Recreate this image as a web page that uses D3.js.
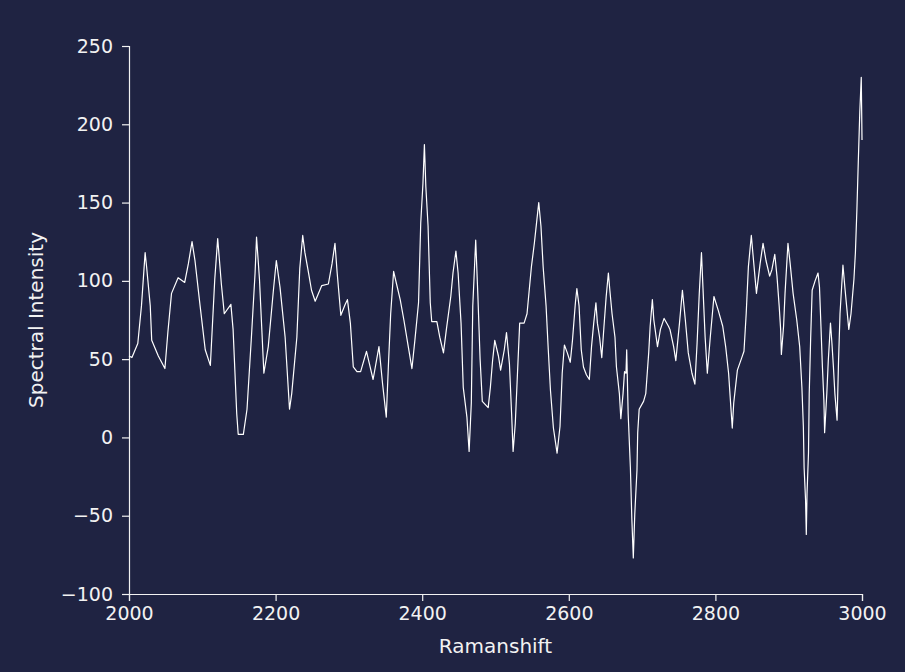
<!DOCTYPE html>
<html>
<head>
<meta charset="utf-8">
<script src="https://cdn.jsdelivr.net/npm/d3@7"></script>
<style>
  html, body { margin: 0; padding: 0; background: #1f2342; }
  svg { display: block; }
  text { font-family: "DejaVu Sans", sans-serif; }
</style>
</head>
<body>
<svg width="905" height="672"></svg>
<script>
// values
var ramanShift = [
  2000, 2004, 2012, 2017, 2022, 2024, 2029, 2031, 2040, 2049, 2053, 2058, 2067, 2076, 2081, 2086, 2090, 2097,
  2104, 2111, 2117, 2121, 2126, 2130, 2139, 2142, 2147, 2149, 2156, 2161, 2167, 2172, 2174, 2178, 2181, 2184,
  2190, 2197, 2201, 2206, 2213, 2219, 2222, 2229, 2233, 2237, 2240, 2245, 2249, 2254, 2263, 2272, 2277, 2281,
  2284, 2289, 2295, 2298, 2302, 2306, 2311, 2316, 2324, 2328, 2333, 2341, 2346, 2351, 2354, 2357, 2361, 2365,
  2370, 2375, 2381, 2386, 2390, 2395, 2398, 2401, 2403, 2405, 2408, 2411, 2413, 2420, 2424, 2429, 2433, 2439,
  2442, 2446, 2449, 2453, 2456, 2461, 2464, 2467, 2469, 2473, 2476, 2479, 2482, 2490, 2493, 2496, 2499, 2504,
  2507, 2512, 2515, 2519, 2522, 2524, 2527, 2530, 2533, 2539, 2543, 2546, 2549, 2553, 2556, 2559, 2562, 2565,
  2569, 2572, 2575, 2579, 2584, 2588, 2591, 2594, 2598, 2602, 2605, 2609, 2611, 2614, 2617, 2620, 2624, 2628,
  2631, 2634, 2637, 2639, 2642, 2645, 2648, 2651, 2654, 2656, 2659, 2663, 2665, 2669, 2671, 2674, 2676, 2678,
  2679, 2681, 2684, 2686, 2688, 2690, 2693, 2694, 2696, 2702, 2705, 2709, 2711, 2714, 2716, 2721, 2725, 2730,
  2736, 2738, 2743, 2746, 2751, 2755, 2759, 2763, 2768, 2772, 2775, 2778, 2781, 2783, 2786, 2789, 2793, 2798,
  2804, 2810, 2814, 2818, 2821, 2823, 2825, 2830, 2836, 2839, 2842, 2845, 2849, 2852, 2856, 2861, 2865, 2869,
  2874, 2877, 2881, 2884, 2887, 2889, 2890, 2893, 2895, 2899, 2902, 2906, 2911, 2915, 2918, 2920, 2921, 2923,
  2924, 2925, 2927, 2928, 2930, 2932, 2936, 2940, 2942, 2944, 2946, 2948, 2949, 2952, 2954, 2957, 2959, 2961,
  2963, 2966, 2968, 2970, 2974, 2977, 2979, 2982, 2985, 2987, 2989, 2991, 2993, 2995, 2997, 2999, 3000
];
var intensity = [
  52, 51, 60, 84, 118, 109, 84, 62, 52, 44, 67, 92, 102, 99, 111, 125, 113, 84,
  56, 46, 101, 127, 98, 79, 85, 69, 15, 2, 2, 18, 64, 105, 128, 101, 71, 41,
  58, 94, 113, 96, 64, 18, 28, 64, 108, 129, 118, 105, 94, 87, 97, 98, 111, 124,
  105, 78, 85, 88, 73, 45, 42, 42, 55, 47, 37, 58, 34, 13, 47, 79, 106, 98,
  88, 75, 58, 44, 62, 86, 137, 162, 187, 160, 135, 86, 74, 74, 64, 54, 69, 90,
  105, 119, 105, 73, 32, 13, -9, 22, 84, 126, 90, 50, 23, 19, 32, 49, 62, 52,
  43, 56, 67, 47, 15, -9, 9, 41, 73, 73, 79, 94, 109, 124, 137, 150, 135, 109,
  84, 56, 30, 6, -10, 7, 41, 59, 54, 48, 62, 86, 95, 84, 56, 45, 40, 37,
  58, 73, 86, 73, 64, 51, 71, 90, 105, 94, 79, 64, 45, 28, 12, 28, 42, 41,
  56, 15, -19, -52, -77, -49, -21, 3, 18, 23, 28, 54, 71, 88, 75, 58, 69, 76,
  71, 69, 58, 49, 73, 94, 75, 54, 41, 34, 60, 92, 118, 96, 64, 41, 64, 90,
  81, 71, 58, 41, 20, 6, 22, 43, 51, 55, 79, 109, 129, 113, 92, 111, 124, 113,
  103, 107, 117, 103, 84, 69, 53, 71, 92, 124, 111, 92, 75, 58, 32, 7, -19, -40,
  -62, -36, -10, 28, 64, 94, 100, 105, 96, 71, 45, 24, 3, 28, 49, 73, 60, 45,
  28, 11, 49, 79, 110, 94, 84, 69, 79, 90, 101, 118, 145, 177, 208, 230, 190
];
var xTicks = [2000, 2200, 2400, 2600, 2800, 3000];
var yTicks = [-100, -50, 0, 50, 100, 150, 200, 250];

var svg = d3.select("svg"),
    margin = {top: 46, right: 43, bottom: 78, left: 129},
    width = 905 - margin.left - margin.right,
    height = 672 - margin.top - margin.bottom,
    g = svg.append("g").attr("transform", "translate(" + margin.left + "," + margin.top + ")");

var fg = "#f2f2f2";

var x = d3.scaleLinear()
    .domain([2000, 3000])
    .range([0, width]);

var y = d3.scaleLinear()
    .domain([-100, 250])
    .range([height, 0]);

var data = ramanShift.map(function(d, i) { return {shift: d, value: intensity[i]}; });

var line = d3.line()
    .x(function(d) { return x(d.shift); })
    .y(function(d) { return y(d.value); });

var xAxis = g.append("g")
    .attr("transform", "translate(0," + height + ")")
    .call(d3.axisBottom(x).tickValues(xTicks).tickFormat(d3.format("d")).tickSizeOuter(0).tickSize(7).tickPadding(6));

var yAxis = g.append("g")
    .call(d3.axisLeft(y).tickValues(yTicks).tickSizeOuter(0).tickSize(7).tickPadding(9));

[xAxis, yAxis].forEach(function(a) {
  a.select(".domain").attr("stroke", fg).attr("stroke-width", 1.2);
  a.selectAll(".tick line").attr("stroke", fg).attr("stroke-width", 1.2);
  a.selectAll(".tick text")
      .attr("fill", fg)
      .style("font-size", "19px")
      .style("font-family", "DejaVu Sans, sans-serif");
});

g.append("text")
    .attr("x", width / 2)
    .attr("y", height + 59)
    .attr("text-anchor", "middle")
    .attr("fill", fg)
    .style("font-size", "20px")
    .text("Ramanshift");

g.append("text")
    .attr("transform", "rotate(-90)")
    .attr("x", -y(75))
    .attr("y", -86)
    .attr("text-anchor", "middle")
    .attr("fill", fg)
    .style("font-size", "20px")
    .text("Spectral Intensity");

g.append("path")
    .datum(data)
    .attr("fill", "none")
    .attr("stroke", "#ffffff")
    .attr("stroke-width", 1.2)
    .attr("stroke-linejoin", "round")
    .attr("d", line);
</script>
</body>
</html>
